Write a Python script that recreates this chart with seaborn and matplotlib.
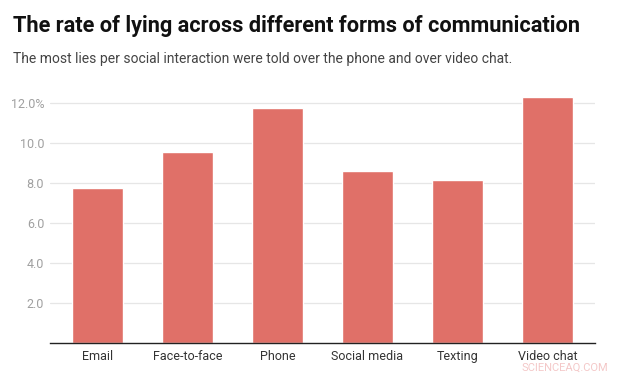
import matplotlib
matplotlib.use("Agg")
import matplotlib.pyplot as plt
import seaborn as sns
import pandas as pd

categories = ["Email", "Face-to-face", "Phone", "Social media", "Texting", "Video chat"]
values = [7.75, 9.55, 11.75, 8.6, 8.15, 12.3]
ytick_values = [2, 4, 6, 8, 10, 12]
ytick_labels = ["2.0", "4.0", "6.0", "8.0", "10.0", "12.0%"]

sns.set_theme(style="white")
plt.rcParams['font.family'] = ['Roboto', 'DejaVu Sans']

df = pd.DataFrame({"cat": categories, "val": values})

fig = plt.figure(figsize=(6.22, 3.73), dpi=100)
ax = fig.add_axes([0.080, 0.0804, 0.877, 0.697])

sns.barplot(data=df, x="cat", y="val", color="#e07068", saturation=1, width=0.567, ax=ax, zorder=3)

ax.set_xlim(-0.528, 5.53)
ax.set_ylim(0, 13)
ax.set_yticks(ytick_values)
ax.set_yticklabels(ytick_labels)
ax.yaxis.grid(True, color="#e6e6e6", linewidth=0.9, zorder=0)
ax.set_axisbelow(True)
for s in ["top", "right", "left"]:
    ax.spines[s].set_visible(False)
ax.spines["bottom"].set_color("#222222")
ax.spines["bottom"].set_linewidth(1.0)
ax.spines["bottom"].set_zorder(5)
ax.tick_params(axis="y", length=0, pad=4, labelsize=9, labelcolor="#a0a0a0")
ax.tick_params(axis="x", length=0, pad=5, labelsize=9, labelcolor="#333333")
ax.set_xlabel("")
ax.set_ylabel("")

fig.text(0.0209, 0.93, "The rate of lying across different forms of communication",
         fontsize=15.7, fontweight="bold", color="#111111", va="center", ha="left")
fig.text(0.0209, 0.842, "The most lies per social interaction were told over the phone and over video chat.",
         fontsize=10, color="#444444", va="center", ha="left")
fig.text(0.977, 0.0, "SCIENCEAQ.COM", fontsize=8, color="#f4c8c8", ha="right", va="bottom")

fig.savefig("out.png", dpi=100)
